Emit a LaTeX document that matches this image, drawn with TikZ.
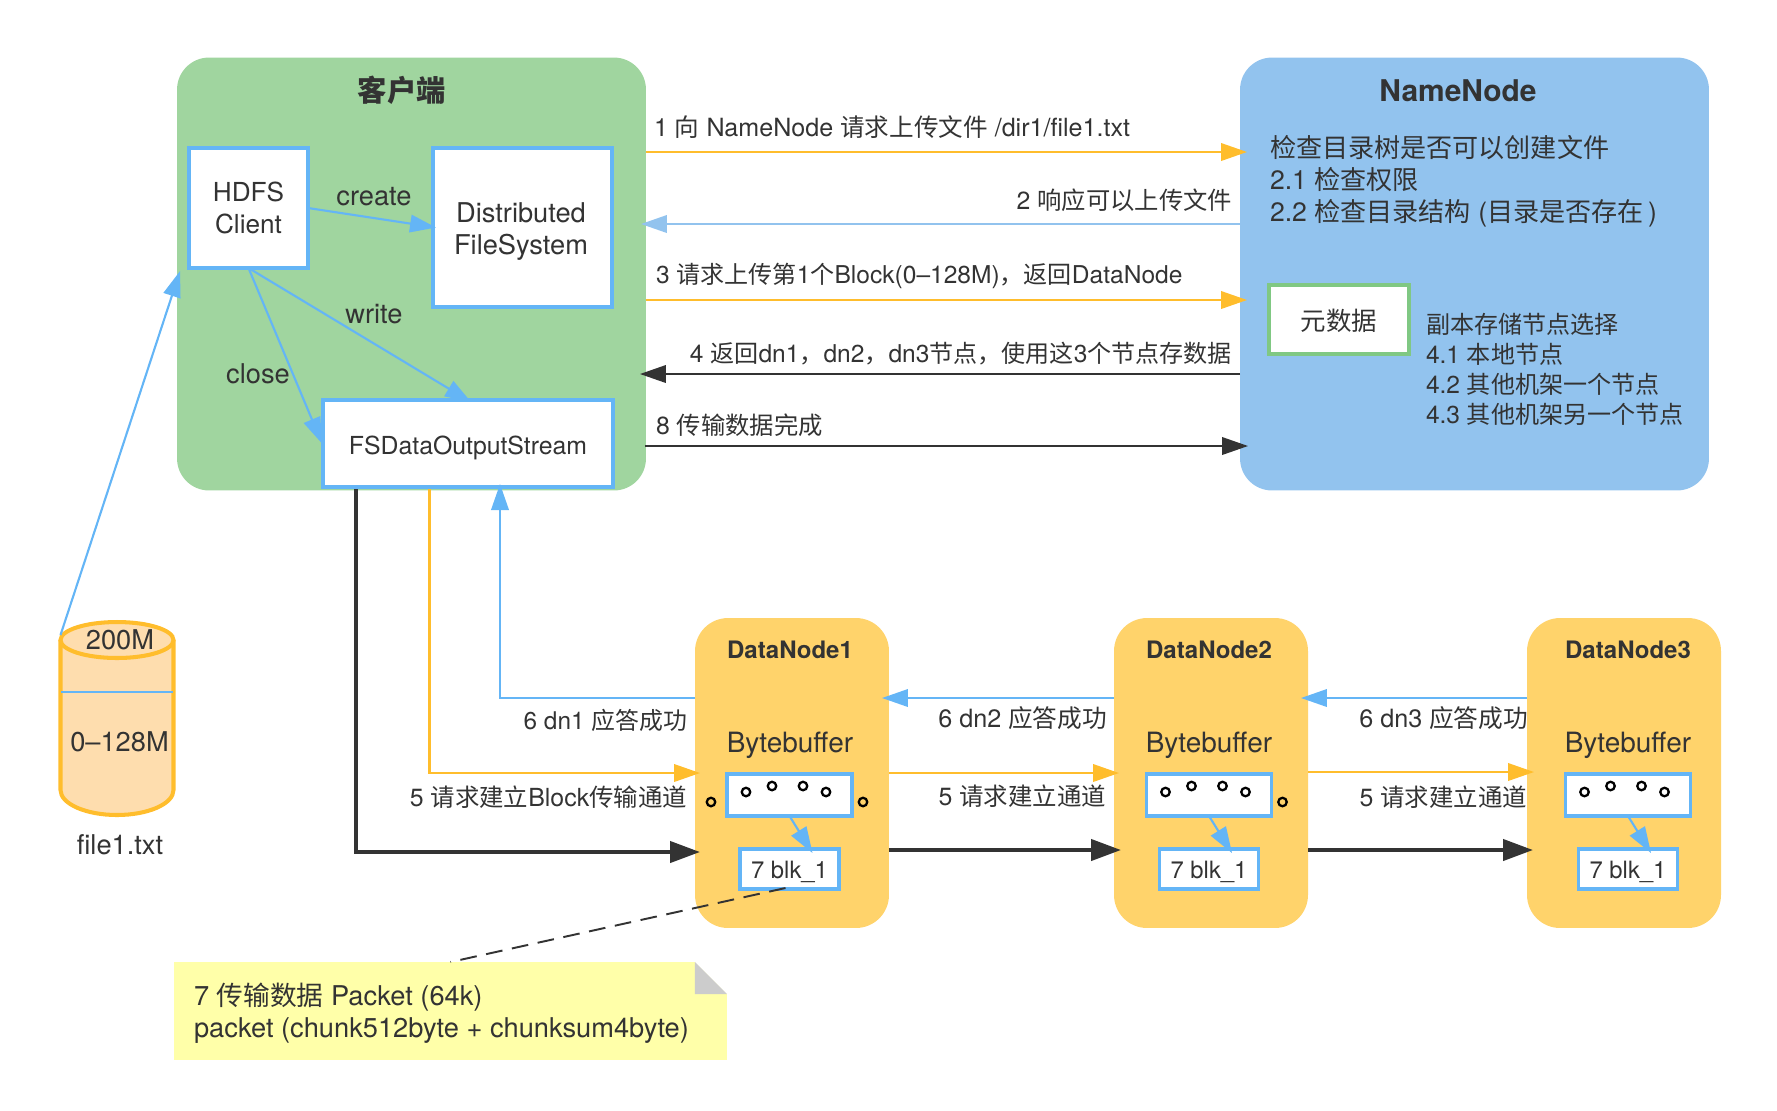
\documentclass[tikz,border=0pt]{standalone}
\usepackage{fontspec}
\usepackage{amsmath}
\setmainfont[Scale=1.02]{TeX Gyre Heros}
\newfontfamily\zhfont{Noto Sans CJK SC}
\newcommand{\zh}[1]{{\zhfont #1}}
\usetikzlibrary{arrows.meta,calc,shapes.geometric}
\definecolor{clientgreen}{HTML}{A0D59F}
\definecolor{namenodeblue}{HTML}{92C3EE}
\definecolor{datayellow}{HTML}{FFD36B}
\definecolor{notecream}{HTML}{FFFFA9}
\definecolor{metagreen}{HTML}{80C883}
\definecolor{edgeblue}{HTML}{64B5F6}
\definecolor{edgeorange}{HTML}{FFBD2C}
\definecolor{cylpeach}{HTML}{FEDDAE}
\definecolor{inkgray}{HTML}{333333}
\begin{document}
\begin{tikzpicture}[x=0.02cm, y=0.02cm]
    \tikzstyle{every node}+=[inner sep=0pt, outer sep=0pt, text=inkgray, font=\fontsize{13.85}{17}\selectfont]
    \tikzstyle{bigtext}=[font=\fontsize{14.6}{18.2}\selectfont, align=center]
    \tikzstyle{edgetext}=[font=\fontsize{15.2}{18.2}\selectfont]
    \tikzstyle{steptext}=[font=\fontsize{13.9}{17}\selectfont, anchor=east]
    \tikzstyle{acktext}=[font=\fontsize{14.05}{17}\selectfont, anchor=east]
    \tikzstyle{sidetext}=[font=\fontsize{13.7}{17.07}\selectfont, align=left, anchor=west]
    \tikzstyle{maintext}=[font=\fontsize{14.85}{18.2}\selectfont, align=left, anchor=west]
    \tikzstyle{notetext}=[font=\fontsize{15.2}{18.2}\selectfont, align=left, anchor=west]
    \tikzstyle{hugetitle}=[font=\fontsize{16.7}{20}\selectfont\bfseries]
    \tikzstyle{dntitle}=[font=\fontsize{13.4}{16}\selectfont\bfseries]
    \tikzstyle{buftext}=[font=\fontsize{15.6}{17}\selectfont]
    \tikzstyle{cyltext}=[font=\fontsize{15.2}{17}\selectfont]
    \tikzstyle{area}=[rounded corners=.64cm, minimum width=9.38cm, minimum height=8.66cm]
    \tikzstyle{dnarea}=[rounded corners=.66cm, fill=datayellow, minimum width=3.88cm, minimum height=6.2cm]
    \tikzstyle{bluebox}=[draw=edgeblue, fill=white, line width=2.1pt, align=center]
    \tikzstyle{bufbox}=[bluebox, minimum width=2.5cm, minimum height=.84cm]
    \tikzstyle{blkbox}=[bluebox, font=\fontsize{13.3}{17}\selectfont, minimum width=1.98cm, minimum height=.8cm]
    \tikzstyle{hole}=[circle, draw=black, line width=1.3pt, minimum size=.17cm]
    \tikzstyle{orangeflow}=[draw=edgeorange, line width=1.2pt, -{Triangle[length=.52cm,width=.35cm]}]
    \tikzstyle{blueflow}=[draw=edgeblue, line width=1.2pt, -{Triangle[length=.52cm,width=.35cm,fill=edgeblue]}]
    \tikzstyle{paleflow}=[draw=namenodeblue, line width=1.2pt, -{Triangle[length=.52cm,width=.35cm]}]
    \tikzstyle{darkflow}=[draw=inkgray, line width=1.2pt, -{Triangle[length=.52cm,width=.35cm]}]
    \tikzstyle{heavyflow}=[draw=inkgray, line width=2.4pt, -{Triangle[length=.6cm,width=.42cm]}]
    \tikzstyle{cylside}=[draw=edgeorange, fill=cylpeach, line width=2.3pt]
    \useasboundingbox (0,0) rectangle (1777,-1110);

    \node [area, fill=clientgreen] (client) at (411.5,-274) {};
    \node [hugetitle] (clienttitle) at (402,-90.5) {\zh{客户端}};
    \node [bluebox, bigtext, minimum width=2.38cm, minimum height=2.4cm] (hdfs) at (248.5,-208) {HDFS\\Client};
    \node [bluebox, minimum width=3.58cm, minimum height=3.18cm] (dfs) at (522.5,-227.5) {};
    \node [edgetext, align=center] (dfstext) at (521,-232) {Distributed\\FileSystem};
    \node [bluebox, minimum width=5.8cm, minimum height=1.74cm] (stream) at (468,-443.5) {\raisebox{-6.2pt}[0pt][0pt]{FSDataOutputStream}};
    \draw [blueflow] (hdfs.east) -- ($(dfs.west)+(3,0)$);
    \draw [blueflow] (hdfs.south) -- ($(stream.west)+(-1,0)$);
    \draw [blueflow] (hdfs.south) -- ($(stream.north)+(3,-2)$);
    \node [edgetext] (createlabel) at (374,-197) {create};
    \node [edgetext] (writelabel) at (374,-314) {write};
    \node [edgetext] (closelabel) at (258,-374) {close};

    \node [area, fill=namenodeblue] (namenode) at (1474.5,-274) {};
    \node [hugetitle] (nntitle) at (1458,-90.5) {NameNode};
    \node [maintext] (checktext) at (1270,-181) {\zh{检查目录树是否可以创建文件}\\2.1 \zh{检查权限}\\2.2 \zh{检查目录结构} (\zh{目录是否存在}\,)};
    \node [draw=metagreen, fill=white, line width=2.1pt, minimum width=2.8cm, minimum height=1.38cm] (meta) at (1339,-319.5) {\fontsize{14.5}{17}\selectfont\raisebox{-6.1pt}[0pt][0pt]{\zh{元数据}}};
    \node [sidetext] (replicatext) at (1426,-369) {\zh{副本存储节点选择}\\4.1 \zh{本地节点}\\4.2 \zh{其他机架一个节点}\\4.3 \zh{其他机架另一个节点}};

    \draw [orangeflow] ($(client.east)+(0,122)$) -- ($(namenode.west)+(7,122)$);
    \draw [paleflow] ($(namenode.west)+(0,50)$) -- ($(client.east)+(-5,50)$);
    \draw [orangeflow] ($(client.east)+(0,-26)$) -- ($(namenode.west)+(7,-26)$);
    \draw [darkflow] ($(namenode.west)+(0,-100)$) -- ($(client.east)+(-6,-100)$);
    \draw [darkflow] ($(client.east)+(-1,-172)$) -- ($(namenode.west)+(8,-172)$);
    \node [anchor=west, font=\fontsize{14}{17}\selectfont] (step1) at (654,-127) {1 \zh{向} NameNode \zh{请求上传文件} /dir1/file1.txt};
    \node [anchor=east] (step2) at (1232,-200) {2 \zh{响应可以上传文件}};
    \node [anchor=west, font=\fontsize{13.7}{17}\selectfont] (step3) at (656,-276) {3 \zh{请求上传第}1\zh{个}Block(0–128M)\zh{，返回}DataNode};
    \node [anchor=east, font=\fontsize{13.7}{17}\selectfont] (step4) at (1232,-354) {4 \zh{返回}dn1\zh{，}dn2\zh{，}dn3\zh{节点，使用这}3\zh{个节点存数据}};
    \node [anchor=west] (step8) at (656,-425) {8 \zh{传输数据完成}};

    \draw [cylside] (60.5,-640) -- (60.5,-790) arc [start angle=180, end angle=360, x radius=56.5, y radius=25] -- (173.5,-640);
    \node [ellipse, cyltext, draw=edgeorange, fill=cylpeach, line width=2.3pt, minimum width=2.26cm, minimum height=.72cm] (cyltop) at (117,-640) {\hspace*{.12cm}200M};
    \draw [draw=edgeblue, line width=1.2pt] (61,-692) -- (173,-692);
    \node [cyltext] (blocksize) at (119.5,-742) {0–128M};
    \node [cyltext] (filename) at (120,-845) {file1.txt};
    \draw [blueflow] ($(cyltop.west)+(0,5)$) -- ($(client.west)+(3,3)$);

    \node [dnarea] (dn1) at (792,-773) {};
    \node [dntitle] (dn1title) at (790,-650) {DataNode1};
    \node [buftext] (buflabel1) at (790,-745) {Bytebuffer};
    \node [bufbox] (buf1) at (789.5,-795) {};
    \node [blkbox] (blk1) at (789.5,-869) {\raisebox{-5.4pt}[0pt][0pt]{7 blk\_1}};
    \node [hole] (hole11) at (746,-792) {};
    \node [hole] (hole12) at (772,-786) {};
    \node [hole] (hole13) at (803,-786) {};
    \node [hole] (hole14) at (826,-792) {};
    \node [hole] (hole15) at (711,-802) {};
    \node [hole] (hole16) at (863,-802) {};
    \draw [blueflow] (buf1.south) -- ($(blk1.north)+(23,-4)$);

    \node [dnarea] (dn2) at (1211,-773) {};
    \node [dntitle] (dn2title) at (1209,-650) {DataNode2};
    \node [buftext] (buflabel2) at (1209,-745) {Bytebuffer};
    \node [bufbox] (buf2) at (1209,-795) {};
    \node [blkbox] (blk2) at (1209,-869) {\raisebox{-5.4pt}[0pt][0pt]{7 blk\_1}};
    \node [hole] (hole21) at (1165.5,-792) {};
    \node [hole] (hole22) at (1191.5,-786) {};
    \node [hole] (hole23) at (1222.5,-786) {};
    \node [hole] (hole24) at (1245.5,-792) {};
    \node [hole] (hole25) at (1282.5,-802) {};
    \draw [blueflow] (buf2.south) -- ($(blk2.north)+(23,-4)$);

    \node [dnarea] (dn3) at (1624,-773) {};
    \node [dntitle] (dn3title) at (1628,-650) {DataNode3};
    \node [buftext] (buflabel3) at (1628,-745) {Bytebuffer};
    \node [bufbox] (buf3) at (1628,-795) {};
    \node [blkbox] (blk3) at (1628,-869) {\raisebox{-5.4pt}[0pt][0pt]{7 blk\_1}};
    \node [hole] (hole31) at (1584.5,-792) {};
    \node [hole] (hole32) at (1610.5,-786) {};
    \node [hole] (hole33) at (1641.5,-786) {};
    \node [hole] (hole34) at (1664.5,-792) {};
    \draw [blueflow] (buf3.south) -- ($(blk3.north)+(23,-4)$);

    \draw [heavyflow] ($(stream.south)+(-112,-2)$) |- ($(dn1.west)+(5,-79)$);
    \draw [orangeflow] ($(stream.south)+(-38.5,-2)$) |- ($(dn1.west)+(5,0)$);
    \draw [blueflow] ($(dn1.west)+(0,75)$) -| ($(stream.south)+(32,3)$);
    \draw [blueflow] ($(dn2.west)+(0,75)$) -- ($(dn1.east)+(-7,75)$);
    \draw [blueflow] ($(dn3.west)+(0,75)$) -- ($(dn2.east)+(-7,75)$);
    \draw [orangeflow] (dn1.east) -- ($(dn2.west)+(5,0)$);
    \draw [orangeflow] ($(dn2.east)+(0,1)$) -- ($(dn3.west)+(7,1)$);
    \draw [heavyflow] ($(dn1.east)+(0,-77)$) -- ($(dn2.west)+(7,-77)$);
    \draw [heavyflow] ($(dn2.east)+(0,-77)$) -- ($(dn3.west)+(6,-77)$);
    \node [anchor=east, font=\fontsize{13.6}{17}\selectfont] (ack1) at (687,-720) {6 dn1 \zh{应答成功}};
    \node [steptext] (req1) at (687,-797) {5 \zh{请求建立}Block\zh{传输通道}};
    \node [acktext] (ack2) at (1107,-718) {6 dn2 \zh{应答成功}};
    \node [steptext] (req2) at (1106,-796) {5 \zh{请求建立通道}};
    \node [acktext] (ack3) at (1528,-718) {6 dn3 \zh{应答成功}};
    \node [steptext] (req3) at (1527,-797) {5 \zh{请求建立通道}};

    \node [fill=notecream, minimum width=11.06cm, minimum height=1.96cm] (note) at (450.5,-1011) {};
    \fill [white] (note.north east) -- ++(-32,0) -- ++(32,-32) -- cycle;
    \fill [black!20] ($(note.north east)+(-32,0)$) -- ++(0,-32) -- ++(32,0) -- cycle;
    \node [notetext] (packettext) at (194,-1013) {7 \zh{传输数据} Packet (64k)\\packet (chunk512byte + chunksum4byte)};
    \draw [draw=inkgray, line width=1.1pt, dash pattern=on 9.5pt off 5.5pt] ($(blk1.south)+(-4,1)$) -- (note.north);
\end{tikzpicture}
\end{document}
